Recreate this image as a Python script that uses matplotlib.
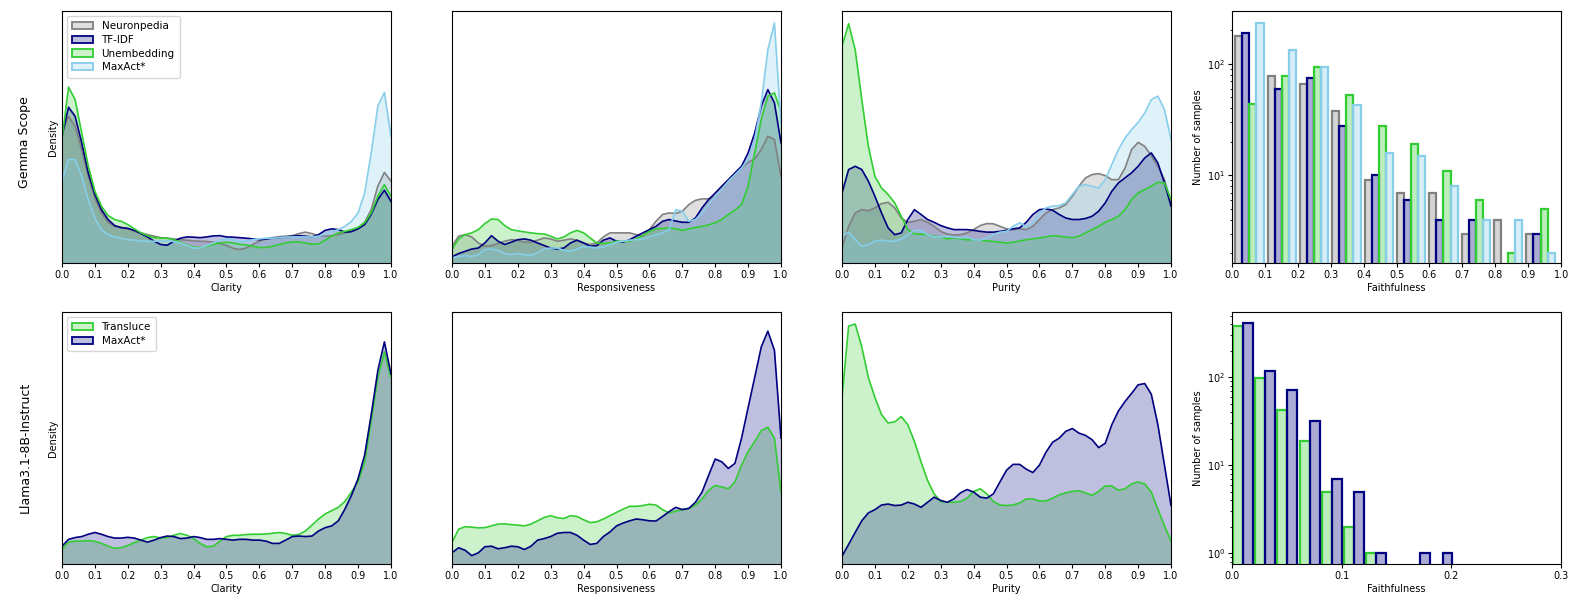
import numpy as np
import matplotlib
matplotlib.use("Agg")
import matplotlib.pyplot as plt
from matplotlib.patches import Patch
from matplotlib.colors import to_rgba

# positions along the score axis where the density curves were read
score_grid = np.linspace(0, 1, 51)

# ---- Gemma Scope densities (Clarity, Responsiveness, Purity) ----
gemma_clarity_neuronpedia = [5.15, 5.81, 5.42, 4.49, 3.43, 2.58, 1.98, 1.61, 1.45, 1.40, 1.35, 1.25, 1.19, 1.12, 1.06, 1.00, 0.98, 0.95, 0.92, 0.90, 0.87, 0.86, 0.85, 0.82, 0.77, 0.69, 0.58, 0.53, 0.59, 0.73, 0.86, 0.95, 1.00, 1.04, 1.06, 1.08, 1.16, 1.22, 1.16, 1.08, 1.06, 1.08, 1.12, 1.19, 1.25, 1.39, 1.61, 2.11, 3.04, 3.59, 3.24]
gemma_clarity_tfidf = [5.02, 6.17, 5.81, 4.76, 3.57, 2.71, 2.11, 1.72, 1.48, 1.40, 1.37, 1.29, 1.16, 1.03, 0.86, 0.73, 0.70, 0.86, 0.98, 1.03, 1.02, 1.00, 1.03, 1.07, 1.08, 1.03, 1.02, 1.00, 0.98, 0.95, 0.92, 0.95, 0.98, 1.00, 1.03, 1.06, 1.08, 1.06, 1.03, 1.12, 1.29, 1.35, 1.32, 1.22, 1.24, 1.35, 1.52, 1.92, 2.51, 2.88, 2.44]
gemma_clarity_unembed = [4.89, 6.97, 6.47, 5.15, 3.83, 2.84, 2.25, 1.88, 1.72, 1.65, 1.52, 1.35, 1.19, 1.08, 1.00, 0.98, 0.98, 0.92, 0.82, 0.71, 0.63, 0.61, 0.66, 0.73, 0.79, 0.82, 0.79, 0.74, 0.71, 0.66, 0.61, 0.61, 0.66, 0.73, 0.79, 0.83, 0.83, 0.79, 0.74, 0.75, 0.90, 1.06, 1.19, 1.25, 1.32, 1.41, 1.59, 1.98, 2.64, 3.10, 2.64]
gemma_clarity_maxact = [3.24, 4.10, 4.10, 3.43, 2.51, 1.78, 1.32, 1.12, 1.03, 0.98, 0.92, 0.90, 0.87, 0.86, 0.86, 0.87, 0.87, 0.85, 0.79, 0.69, 0.59, 0.59, 0.69, 0.79, 0.90, 0.95, 0.92, 0.85, 0.87, 0.92, 0.95, 0.98, 0.98, 1.00, 1.03, 1.03, 1.03, 1.03, 1.03, 1.06, 1.14, 1.24, 1.32, 1.45, 1.65, 1.98, 2.77, 4.36, 6.21, 6.76, 5.02]

gemma_resp_neuronpedia = [0.66, 1.06, 1.12, 1.03, 0.79, 0.66, 0.69, 0.77, 0.86, 0.92, 0.90, 0.82, 0.82, 0.90, 0.99, 0.95, 0.86, 0.90, 0.95, 0.90, 0.79, 0.73, 0.79, 1.03, 1.19, 1.19, 1.19, 1.19, 1.12, 1.06, 1.32, 1.65, 1.92, 1.98, 1.96, 2.05, 2.31, 2.48, 2.54, 2.54, 2.64, 2.91, 3.24, 3.50, 3.76, 3.99, 4.12, 4.49, 5.02, 4.89, 3.43]
gemma_resp_tfidf = [0.24, 0.37, 0.46, 0.55, 0.59, 0.79, 1.08, 0.86, 0.73, 0.82, 0.92, 0.95, 0.90, 0.79, 0.69, 0.59, 0.55, 0.59, 0.79, 0.90, 0.79, 0.66, 0.69, 0.90, 0.99, 0.86, 0.82, 0.92, 1.06, 1.19, 1.32, 1.45, 1.65, 1.72, 1.66, 1.61, 1.61, 1.78, 2.18, 2.51, 2.77, 3.04, 3.30, 3.57, 3.83, 4.36, 5.15, 6.21, 6.87, 6.34, 4.76]
gemma_resp_unembed = [0.53, 0.95, 1.12, 1.19, 1.32, 1.56, 1.74, 1.72, 1.48, 1.32, 1.27, 1.23, 1.19, 1.16, 1.15, 1.06, 0.95, 1.03, 1.19, 1.29, 1.19, 0.99, 0.79, 0.77, 0.79, 0.86, 0.85, 0.86, 0.95, 1.08, 1.25, 1.35, 1.37, 1.39, 1.35, 1.29, 1.35, 1.40, 1.45, 1.51, 1.59, 1.72, 1.92, 2.09, 2.31, 3.04, 4.36, 5.68, 6.61, 6.74, 6.00]
gemma_resp_maxact = [0.20, 0.26, 0.29, 0.26, 0.33, 0.53, 0.55, 0.50, 0.37, 0.33, 0.37, 0.32, 0.30, 0.40, 0.55, 0.59, 0.59, 0.50, 0.46, 0.55, 0.66, 0.63, 0.59, 0.63, 0.73, 0.82, 0.86, 0.90, 0.92, 0.95, 1.03, 1.11, 1.19, 1.32, 2.11, 2.05, 1.65, 1.72, 1.98, 2.31, 2.64, 2.91, 3.24, 3.50, 3.76, 4.10, 4.89, 6.34, 8.45, 9.51, 5.50]

gemma_purity_neuronpedia = [0.59, 1.45, 1.98, 2.11, 2.07, 2.18, 2.35, 2.40, 2.18, 1.78, 1.61, 1.65, 1.72, 1.61, 1.45, 1.25, 1.14, 1.11, 1.12, 1.19, 1.32, 1.48, 1.56, 1.55, 1.45, 1.35, 1.32, 1.35, 1.32, 1.45, 1.72, 1.98, 2.11, 2.18, 2.31, 2.64, 3.04, 3.37, 3.50, 3.54, 3.46, 3.30, 3.30, 3.76, 4.49, 4.78, 4.62, 4.25, 3.83, 3.30, 2.38]
gemma_purity_tfidf = [2.77, 3.70, 3.83, 3.70, 3.24, 2.64, 1.98, 1.39, 1.12, 1.19, 1.72, 2.11, 1.92, 1.72, 1.61, 1.48, 1.39, 1.32, 1.32, 1.32, 1.29, 1.25, 1.22, 1.22, 1.25, 1.29, 1.35, 1.39, 1.61, 1.92, 2.11, 2.14, 2.09, 1.92, 1.78, 1.72, 1.72, 1.76, 1.85, 2.05, 2.38, 2.84, 3.17, 3.37, 3.57, 3.83, 4.16, 4.36, 3.96, 3.17, 2.25]
gemma_purity_unembed = [8.59, 9.48, 8.45, 6.47, 4.62, 3.43, 2.97, 2.71, 2.38, 1.85, 1.32, 1.15, 1.14, 1.12, 1.06, 1.03, 0.95, 0.99, 0.95, 0.92, 0.92, 0.90, 0.87, 0.85, 0.82, 0.79, 0.82, 0.87, 0.92, 0.95, 0.99, 1.03, 1.08, 1.06, 1.02, 1.00, 1.06, 1.19, 1.32, 1.45, 1.61, 1.72, 1.85, 2.11, 2.51, 2.77, 2.91, 3.04, 3.20, 3.17, 2.51]
gemma_purity_maxact = [1.06, 1.22, 0.92, 0.66, 0.73, 0.86, 0.90, 0.86, 0.86, 0.95, 1.12, 1.29, 1.29, 1.12, 1.03, 1.03, 1.06, 1.02, 0.99, 1.03, 0.92, 0.90, 0.99, 1.12, 1.22, 1.25, 1.45, 1.59, 1.43, 1.59, 1.98, 2.18, 2.25, 2.27, 2.38, 2.71, 3.04, 3.10, 3.04, 2.97, 3.30, 3.90, 4.49, 4.95, 5.28, 5.57, 5.94, 6.47, 6.61, 6.08, 4.89]

# ---- Llama3.1-8B-Instruct densities ----
llama_clarity_transluce = [0.57, 0.86, 0.90, 0.90, 0.92, 0.89, 0.81, 0.70, 0.62, 0.64, 0.73, 0.84, 0.94, 1.04, 1.08, 1.02, 1.04, 1.13, 1.20, 1.13, 1.00, 0.81, 0.68, 0.70, 0.90, 1.08, 1.13, 1.13, 1.16, 1.17, 1.17, 1.18, 1.21, 1.24, 1.20, 1.13, 1.16, 1.30, 1.53, 1.77, 1.97, 2.10, 2.23, 2.46, 2.83, 3.23, 4.02, 5.62, 7.34, 8.34, 7.34]
llama_clarity_maxact = [0.70, 0.97, 1.04, 1.08, 1.17, 1.24, 1.17, 1.08, 1.02, 1.02, 1.05, 1.02, 0.94, 0.86, 0.94, 1.04, 1.10, 1.08, 1.00, 1.02, 1.08, 1.04, 0.97, 0.97, 1.00, 0.97, 0.94, 0.97, 0.97, 0.94, 0.94, 0.90, 0.81, 0.81, 0.94, 1.08, 1.10, 1.08, 1.10, 1.30, 1.43, 1.50, 1.70, 2.16, 2.70, 3.36, 4.29, 5.88, 7.61, 8.74, 7.48]

llama_resp_transluce = [0.84, 1.37, 1.47, 1.45, 1.42, 1.43, 1.50, 1.57, 1.58, 1.55, 1.53, 1.50, 1.57, 1.70, 1.83, 1.90, 1.82, 1.79, 1.90, 1.87, 1.74, 1.63, 1.66, 1.77, 1.90, 2.03, 2.16, 2.27, 2.27, 2.30, 2.35, 2.32, 2.14, 2.01, 2.08, 2.14, 2.19, 2.32, 2.56, 2.90, 3.09, 3.03, 2.96, 3.23, 3.89, 4.42, 4.82, 5.25, 5.38, 4.95, 2.83]
llama_resp_maxact = [0.44, 0.64, 0.54, 0.33, 0.44, 0.68, 0.70, 0.60, 0.64, 0.70, 0.68, 0.57, 0.70, 0.94, 1.00, 1.08, 1.21, 1.24, 1.24, 1.13, 0.94, 0.77, 0.81, 1.08, 1.26, 1.50, 1.61, 1.70, 1.77, 1.74, 1.70, 1.69, 1.87, 2.06, 2.23, 2.14, 2.19, 2.43, 2.83, 3.49, 4.13, 4.02, 3.76, 3.96, 4.95, 6.15, 7.34, 8.54, 9.16, 8.41, 4.95]

llama_purity_transluce = [6.55, 9.36, 9.44, 8.54, 7.34, 6.55, 5.88, 5.55, 5.59, 5.80, 5.48, 4.82, 4.02, 3.29, 2.76, 2.46, 2.43, 2.43, 2.46, 2.59, 2.86, 2.96, 2.76, 2.46, 2.32, 2.30, 2.32, 2.40, 2.56, 2.56, 2.48, 2.48, 2.59, 2.72, 2.80, 2.86, 2.88, 2.80, 2.70, 2.86, 3.07, 3.07, 2.90, 2.96, 3.15, 3.23, 3.15, 2.83, 2.16, 1.50, 0.90]
llama_purity_maxact = [0.31, 0.77, 1.24, 1.70, 2.01, 2.14, 2.32, 2.36, 2.30, 2.32, 2.43, 2.36, 2.23, 2.43, 2.63, 2.50, 2.43, 2.56, 2.80, 2.93, 2.83, 2.63, 2.59, 2.76, 3.23, 3.69, 3.92, 3.92, 3.73, 3.60, 3.89, 4.40, 4.79, 4.95, 5.22, 5.33, 5.15, 5.06, 4.89, 4.58, 4.75, 5.48, 6.02, 6.39, 6.71, 7.05, 7.10, 6.68, 5.48, 3.89, 2.30]

# ---- Faithfulness histograms (number of samples per bin) ----
gemma_faith_bins = np.linspace(0.01, 0.993, 11)
gemma_faith_neuronpedia = [178, 78, 66, 38, 9, 7, 7, 3, 4, 3]
gemma_faith_tfidf = [188, 59, 75, 28, 10, 6, 4, 4, 0, 3]
gemma_faith_unembed = [44, 78, 93, 53, 28, 19, 11, 6, 2, 5]
gemma_faith_maxact = [234, 132, 93, 43, 16, 15, 8, 4, 4, 2]

llama_faith_bins = np.linspace(0.001, 0.203, 11)
llama_faith_transluce = [378, 97, 42, 19, 5, 2, 1, 0, 0, 0]
llama_faith_maxact = [412, 119, 72, 32, 7, 5, 1, 0, 1, 1]

metrics = ["Clarity", "Responsiveness", "Purity"]
gemma_methods = ["Neuronpedia", "TF-IDF", "Unembedding", "MaxAct*"]
gemma_colors = ["gray", "navy", "limegreen", "skyblue"]
llama_methods = ["Transluce", "MaxAct*"]
llama_colors = ["limegreen", "navy"]

gemma_density = [
    [gemma_clarity_neuronpedia, gemma_clarity_tfidf, gemma_clarity_unembed, gemma_clarity_maxact],
    [gemma_resp_neuronpedia, gemma_resp_tfidf, gemma_resp_unembed, gemma_resp_maxact],
    [gemma_purity_neuronpedia, gemma_purity_tfidf, gemma_purity_unembed, gemma_purity_maxact],
]
llama_density = [
    [llama_clarity_transluce, llama_clarity_maxact],
    [llama_resp_transluce, llama_resp_maxact],
    [llama_purity_transluce, llama_purity_maxact],
]

plt.rcParams["font.size"] = 7
fig = plt.figure(figsize=(15.81, 6.10), dpi=100)

lefts = [0.0392, 0.2859, 0.5326, 0.7793]
width = 0.2081
row_bottoms = [0.569, 0.0754]
row_height = 0.413


def density_row(row_bottom, curves_per_metric, colors, methods, legend_loc):
    axes = []
    for j, curves in enumerate(curves_per_metric):
        ax = fig.add_axes([lefts[j], row_bottom, width, row_height])
        for vals, c in zip(curves, colors):
            ax.fill_between(score_grid, vals, color=c, alpha=0.25, lw=0)
            ax.plot(score_grid, vals, color=c, lw=1.2)
        ax.set_xlim(0, 1)
        ax.set_xticks(np.arange(0, 1.01, 0.1))
        ax.set_xticklabels([f"{t:.1f}" for t in np.arange(0, 1.01, 0.1)])
        ax.set_yticks([])
        ax.set_xlabel(metrics[j], fontsize=7, labelpad=2)
        ax.tick_params(axis="x", labelsize=7, length=3, pad=2)
        axes.append(ax)
    top = max(max(v) for curves in curves_per_metric for v in curves) * 1.05
    for ax in axes:
        ax.set_ylim(0, top)
    axes[0].set_ylabel("Density", fontsize=7, labelpad=3)
    handles = [Patch(facecolor=to_rgba(c, 0.25), edgecolor=c, lw=1.3) for c in colors]
    axes[0].legend(handles, methods, loc=legend_loc, fontsize=7.5, frameon=True,
                   handlelength=2.0, borderpad=0.5, labelspacing=0.35)
    return axes


def hist_panel(row_bottom, bins, series, colors, xlim, xticks, shrink):
    ax = fig.add_axes([lefts[3], row_bottom, width, row_height])
    bins = np.asarray(bins)
    n = len(series)
    bw = (bins[1] - bins[0]) * shrink / n
    for k, (counts, c) in enumerate(zip(series, colors)):
        counts = np.asarray(counts)
        keep = counts > 0
        xs = bins[:-1][keep] + k * bw
        ax.bar(xs, counts[keep], width=bw, align="edge",
               facecolor=to_rgba(c, 0.33), edgecolor=c, lw=1.6)
    ax.set_yscale("log")
    ax.set_xlim(*xlim)
    ax.set_xticks(xticks)
    ax.set_xticklabels([f"{t:.1f}" for t in xticks])
    ax.set_xlabel("Faithfulness", fontsize=7, labelpad=2)
    ax.set_ylabel("Number of samples", fontsize=7, labelpad=3)
    ax.tick_params(axis="both", labelsize=7, length=3, pad=2)
    ax.tick_params(axis="y", which="minor", length=1.5)
    return ax


density_row(row_bottoms[0], gemma_density, gemma_colors, gemma_methods, "upper left")
ax_h1 = hist_panel(row_bottoms[0], gemma_faith_bins,
                   [gemma_faith_neuronpedia, gemma_faith_tfidf, gemma_faith_unembed, gemma_faith_maxact],
                   gemma_colors, (0, 1), np.arange(0, 1.01, 0.1), 0.87)
ax_h1.set_ylim(1.64, 298)

density_row(row_bottoms[1], llama_density, llama_colors, llama_methods, "upper left")
ax_h2 = hist_panel(row_bottoms[1], llama_faith_bins,
                   [llama_faith_transluce, llama_faith_maxact],
                   llama_colors, (0, 0.3), np.arange(0, 0.31, 0.1), 0.9)
ax_h2.set_ylim(0.75, 550)

fig.text(0.0158, 0.767, "Gemma Scope", rotation=90, ha="center", va="center", fontsize=9)
fig.text(0.0158, 0.267, "Llama3.1-8B-Instruct", rotation=90, ha="center", va="center", fontsize=9)

fig.savefig("out.png", dpi=100)
